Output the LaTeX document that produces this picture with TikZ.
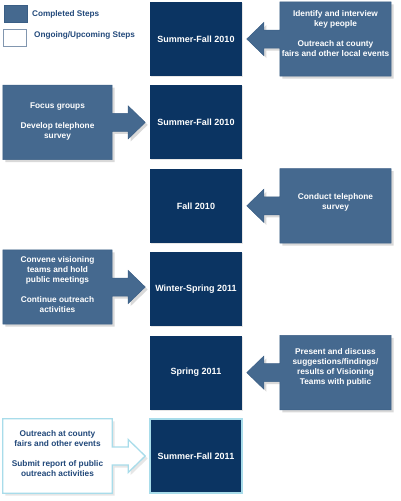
\documentclass[tikz,border=0pt]{standalone}
\usepackage{fontspec}
\setmainfont{Liberation Sans}
\usetikzlibrary{shadows,calc}
\definecolor{navy}{HTML}{0B3462}
\definecolor{steel}{HTML}{45698F}
\definecolor{steelborder}{HTML}{3A5E85}
\definecolor{cyanb}{HTML}{A8DCEA}
\definecolor{legtxt}{HTML}{21487A}
\definecolor{leggray}{HTML}{8196AF}
\begin{document}
\begin{tikzpicture}[x=1pt,y=-1pt,
  darkbox/.style={fill=navy, minimum width=92pt, minimum height=74pt, inner sep=0pt,
    text=white, font=\bfseries\fontsize{9}{11}\selectfont,
    drop shadow={shadow xshift=1pt, shadow yshift=-1pt, opacity=0.2}},
  cbox/.style={minimum width=111pt, minimum height=74pt, inner sep=0pt},
  shapefill/.style={fill=steel, draw=steelborder, line width=0.5pt,
    drop shadow={shadow xshift=2.5pt, shadow yshift=-2.5pt, opacity=0.3}},
  openfill/.style={fill=white, draw=cyanb, line width=1.3pt,
    drop shadow={shadow xshift=2.5pt, shadow yshift=-2.5pt, opacity=0.2}},
  ctext/.style={align=center, text=white, inner sep=0pt,
    font=\bfseries\fontsize{8.3}{10}\selectfont},
  otext/.style={ctext, text=legtxt},
  legtext/.style={anchor=west, inner sep=0pt, text=legtxt,
    font=\bfseries\fontsize{8.2}{10}\selectfont}]
\useasboundingbox (0,0) rectangle (400,501);

% legend
\node[draw=steelborder, fill=steel, minimum width=23pt, minimum height=17pt, inner sep=0pt] (lg1) at (15.5,13.5) {};
\node[legtext] (lg1t) at (32,14) {Completed Steps};
\node[draw=leggray, fill=white, line width=0.8pt, minimum width=23pt, minimum height=17pt, inner sep=0pt] (lg2) at (14.5,37.5) {};
\node[legtext] (lg2t) at (34,35.5) {Ongoing/Upcoming Steps};

% timeline boxes
\node[darkbox] (d1) at (196,39) {Summer-Fall 2010};
\node[darkbox] (d2) at (196,122.4) {Summer-Fall 2010};
\node[darkbox] (d3) at (196,205.8) {Fall 2010};
\node[darkbox] (d4) at (196,289.2) {Winter-Spring 2011};
\node[darkbox] (d5) at (196,372.6) {Spring 2011};
\node[darkbox, draw=cyanb, line width=1.3pt] (d6) at (196,456) {Summer-Fall 2011};

% right callouts (pointing left)
\node[cbox] (r1) at (335.5,39) {};
\path[shapefill] (r1.north east) -- (r1.north west) -- ($(r1.west)+(0,-9)$) -- ++(-16,0) -- ++(0,-7.5)
  -- ++(-17,16.5) -- ++(17,16.5) -- ++(0,-7.5) -- ++(16,0) -- (r1.south west) -- (r1.south east) -- cycle;
\node[ctext] (r1t) at ($(r1.center)+(0,-5)$) {Identify and interview\\key people\\[10pt]Outreach at county\\fairs and other local events};

\node[cbox] (r3) at (335.5,205.8) {};
\path[shapefill] (r3.north east) -- (r3.north west) -- ($(r3.west)+(0,-9)$) -- ++(-16,0) -- ++(0,-7.5)
  -- ++(-17,16.5) -- ++(17,16.5) -- ++(0,-7.5) -- ++(16,0) -- (r3.south west) -- (r3.south east) -- cycle;
\node[ctext] (r3t) at ($(r3.center)+(0,-3)$) {Conduct telephone\\survey};

\node[cbox] (r5) at (335.5,372.6) {};
\path[shapefill] (r5.north east) -- (r5.north west) -- ($(r5.west)+(0,-9)$) -- ++(-16,0) -- ++(0,-7.5)
  -- ++(-17,16.5) -- ++(17,16.5) -- ++(0,-7.5) -- ++(16,0) -- (r5.south west) -- (r5.south east) -- cycle;
\node[ctext] (r5t) at ($(r5.center)+(0,-5)$) {Present and discuss\\suggestions/findings/\\results of Visioning\\Teams with public};

% left callouts (pointing right)
\node[cbox, minimum width=109pt] (l2) at (57.5,122.4) {};
\path[shapefill] (l2.north west) -- (l2.north east) -- ($(l2.east)+(0,-9)$) -- ++(16,0) -- ++(0,-7.5)
  -- ++(17,16.5) -- ++(-17,16.5) -- ++(0,-7.5) -- ++(-16,0) -- (l2.south east) -- (l2.south west) -- cycle;
\node[ctext] (l2t) at ($(l2.center)+(0,-1)$) {Focus groups\\[10pt]Develop telephone\\survey};

\node[cbox, minimum width=109pt] (l4) at (57.5,287) {};
\path[shapefill] (l4.north west) -- (l4.north east) -- ($(l4.east)+(0,-9)$) -- ++(16,0) -- ++(0,-7.5)
  -- ++(17,16.5) -- ++(-17,16.5) -- ++(0,-7.5) -- ++(-16,0) -- (l4.south east) -- (l4.south west) -- cycle;
\node[ctext] (l4t) at ($(l4.center)+(0,-2)$) {Convene visioning\\teams and hold\\public meetings\\[10pt]Continue outreach\\activities};

\node[cbox, minimum width=109pt] (l6) at (57.5,456) {};
\path[openfill] (l6.north west) -- (l6.north east) -- ($(l6.east)+(0,-9)$) -- ++(16,0) -- ++(0,-7.5)
  -- ++(17,16.5) -- ++(-17,16.5) -- ++(0,-7.5) -- ++(-16,0) -- (l6.south east) -- (l6.south west) -- cycle;
\node[otext] (l6t) at ($(l6.center)+(0,-2)$) {Outreach at county\\fairs and other events\\[10pt]Submit report of public\\outreach activities};
\end{tikzpicture}
\end{document}
